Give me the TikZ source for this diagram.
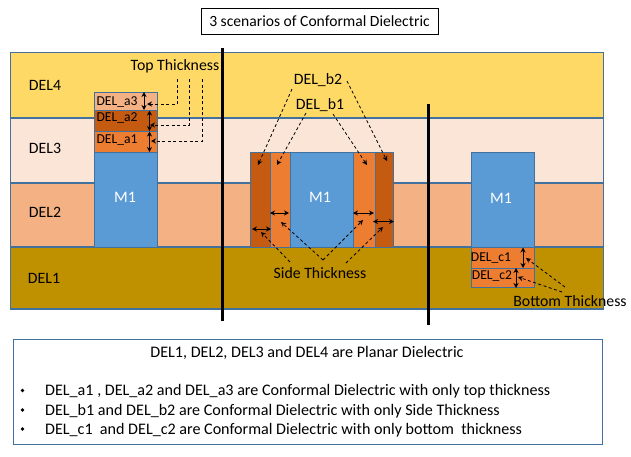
\documentclass[tikz,border=0pt]{standalone}
\usepackage{fontspec}
\setmainfont{Carlito}
\usetikzlibrary{arrows.meta}
\definecolor{edge}{HTML}{41719C}
\definecolor{dfour}{HTML}{FFD966}
\definecolor{dthree}{HTML}{FBE5D6}
\definecolor{dtwo}{HTML}{F4B183}
\definecolor{done}{HTML}{BF9000}
\definecolor{metal}{HTML}{5B9BD5}
\definecolor{cdark}{HTML}{C55A11}
\definecolor{cmid}{HTML}{ED7D31}
\tikzset{
 x=1pt,y=-1pt,
 lay/.style={draw=edge,line width=1.3pt},
 blk/.style={draw=edge,line width=1pt},
 lbl/.style={font=\fontsize{15.8}{18}\selectfont,text=black,inner sep=0pt},
 note/.style={lbl,font=\fontsize{16.1}{18}\selectfont},
 smalllbl/.style={font=\fontsize{13.6}{15}\selectfont,text=black,inner sep=0pt},
 mlabel/.style={font=\fontsize{16}{18}\selectfont,text=white,inner sep=0pt},
 dim/.style={{Stealth[length=5pt,width=5pt]}-{Stealth[length=5pt,width=5pt]},line width=1pt,black},
 lead/.style={dashed,dash pattern=on 3pt off 2.5pt,line width=.8pt,black,-{Stealth[open,length=5pt,width=5pt]}},
 wall/.style={line width=3pt,black},
 tbox/.style={draw=edge,line width=.8pt,fill=white},
 bull/.style={inner sep=0pt,circle,fill=black,minimum size=3.6pt},
}
\begin{document}
\begin{tikzpicture}
\useasboundingbox (0,0) rectangle (631,456);
\fill[white] (0,0) rectangle (631,456);
% layers
\draw[lay,fill=dfour] (10.5,52.5) rectangle (603.5,118);
\draw[lay,fill=dthree] (10.5,118) rectangle (603.5,183);
\draw[lay,fill=dtwo] (10.5,183) rectangle (603.5,247);
\draw[lay,fill=done] (10.5,247) rectangle (603.5,309);
\node[lbl] (d4) at (45,85) {DEL4};
\node[lbl] (d3) at (45,148) {DEL3};
\node[lbl] (d2) at (45,212) {DEL2};
\node[lbl] (d1) at (44,278) {DEL1};
% scenario a
\draw[blk,fill=metal] (94,152) rectangle (157,247);
\node[mlabel] (ma) at (125,197) {M1};
\draw[blk,fill=dtwo] (94,92) rectangle (157,110);
\draw[blk,fill=cdark] (94,110) rectangle (157,131);
\draw[blk,fill=cmid] (94,131) rectangle (157,152);
\node[smalllbl] (a3) at (117,102) {DEL\_a3};
\node[smalllbl] (a2) at (117,118) {DEL\_a2};
\node[smalllbl] (a1) at (117,140) {DEL\_a1};
\draw[dim] (144,92) -- (144,110);
\draw[dim] (149.5,110.5) -- (149.5,131);
\draw[dim] (149.5,131.5) -- (149.5,152);
\node[lbl] (top) at (175,66) {Top Thickness};
\coordinate (ta) at (177,79);
\coordinate (tb) at (189,79);
\coordinate (tc) at (202,79);
\coordinate (ea) at (147,104);
\coordinate (eb) at (150,125);
\coordinate (ec) at (151,141);
\draw[lead] (ta) -- (177,104) -- (ea);
\draw[lead] (tb) -- (189,125) -- (eb);
\draw[lead] (tc) -- (202,141) -- (ec);
% scenario b
\draw[blk,fill=metal] (290,152) rectangle (353,247);
\node[mlabel] (mb) at (320,197) {M1};
\draw[blk,fill=cdark] (250,152) rectangle (270,247);
\draw[blk,fill=cmid] (270,152) rectangle (290,247);
\draw[blk,fill=cmid] (353,152) rectangle (375,247);
\draw[blk,fill=cdark] (375,152) rectangle (393,247);
\draw[dim] (252,229) -- (271,229);
\draw[dim] (270,213) -- (289,213);
\draw[dim] (353,213) -- (374,213);
\draw[dim] (373,221.5) -- (394,221.5);
\node[lbl] (b2) at (318,80) {DEL\_b2};
\node[lbl] (b1) at (320,105) {DEL\_b1};
\coordinate (p1) at (292,89);
\coordinate (p2) at (347,81);
\coordinate (p3) at (306,113);
\coordinate (p4) at (333,114);
\draw[lead] (p1) -- (258,165);
\draw[lead] (p2) -- (387,161);
\draw[lead] (p3) -- (277,165);
\draw[lead] (p4) -- (367,165);
\node[lbl] (side) at (320,273) {Side Thickness};
\coordinate (s0) at (323,260);
\coordinate (s1) at (290,262);
\coordinate (s2) at (346,263);
\draw[lead] (s1) -- (261,232);
\draw[lead] (s0) -- (281,222);
\draw[lead] (s0) -- (363,220);
\draw[lead] (s2) -- (383,227);
% scenario c
\draw[blk,fill=metal] (471,152) rectangle (534,247);
\node[mlabel] (mc) at (501,198) {M1};
\draw[blk,fill=cmid] (471,247) rectangle (534,268);
\draw[blk,fill=cmid] (471,268) rectangle (534,287);
\node[smalllbl] (c1) at (491,258) {DEL\_c1};
\node[smalllbl] (c2) at (492,276) {DEL\_c2};
\draw[dim] (523,247.5) -- (523,268);
\draw[dim] (516,268) -- (516,288);
\node[lbl] (bot) at (570,301) {Bottom Thickness};
\coordinate (u1) at (565,287);
\coordinate (u2) at (562,292);
\draw[lead] (u1) -- (526,258);
\draw[lead] (u2) -- (518,277);
% walls
\coordinate (w1a) at (222,48);
\coordinate (w1b) at (222,321);
\coordinate (w2a) at (428,104);
\coordinate (w2b) at (428,325);
\draw[wall] (w1a) -- (w1b);
\draw[wall] (w2a) -- (w2b);
% text boxes
\node[draw=black,line width=.8pt,fill=white,minimum width=237pt,minimum height=26pt,inner sep=0pt,font=\fontsize{15.6}{18}\selectfont] (title) at (319.5,21) {3 scenarios of Conformal Dielectric};
\draw[tbox] (13.5,339.5) rectangle (602.5,444.5);
\node[note] (n0) at (307,352.5) {DEL1, DEL2, DEL3 and DEL4 are Planar Dielectric};
\node[note,anchor=west] (n1) at (45,391) {DEL\_a1 , DEL\_a2 and DEL\_a3 are Conformal Dielectric with only top thickness};
\node[note,anchor=west] (n2) at (45,411) {DEL\_b1 and DEL\_b2 are Conformal Dielectric with only Side Thickness};
\node[note,anchor=west] (n3) at (45,430) {DEL\_c1 \ and DEL\_c2 are Conformal Dielectric with only bottom \ thickness};
\node[bull] (k1) at (22.5,390.5) {};
\node[bull] (k2) at (22.5,410) {};
\node[bull] (k3) at (22.5,429) {};
\end{tikzpicture}
\end{document}
